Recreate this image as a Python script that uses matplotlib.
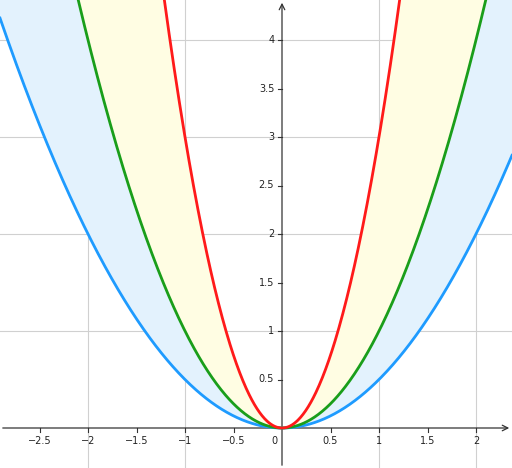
import numpy as np
import matplotlib
matplotlib.use("Agg")
import matplotlib.pyplot as plt

coefs = [0.5, 1.0, 3.0]
colors = ["#1e9bff", "#1a9e1a", "#ff1a1a"]
fills = ["#e3f2fd", "#fffde3"]
xticks = [-2.5, -2, -1.5, -1, -0.5, 0.5, 1, 1.5, 2]
yticks = [0.5, 1, 1.5, 2, 2.5, 3, 3.5, 4]

fig = plt.figure(figsize=(5.12, 4.68), dpi=100)
ax = fig.add_axes([0, 0, 1, 1])
xmin, xmax = -282/97, 230/97
ymin, ymax = -40/97, 428/97
ax.set_xlim(xmin, xmax); ax.set_ylim(ymin, ymax)
for s in ax.spines.values(): s.set_visible(False)
ax.set_xticks([]); ax.set_yticks([])

for g in [-2, -1, 1, 2]:
    ax.axvline(g, color="#d0d0d0", lw=0.8, zorder=0)
for g in [1, 2, 3, 4]:
    ax.axhline(g, color="#d0d0d0", lw=0.8, zorder=0)

x = np.linspace(xmin, xmax, 800)
ys = [c * x**2 for c in coefs]
ax.fill_between(x, ys[0], ys[1], color=fills[0], zorder=1)
ax.fill_between(x, ys[1], ys[2], color=fills[1], zorder=1)
for y, col in zip(ys, colors):
    ax.plot(x, y, color=col, lw=2, zorder=3)

ax.annotate("", xy=(xmax, 0), xytext=(xmin, 0),
            arrowprops=dict(arrowstyle="->", color="#333", lw=0.9), zorder=2)
ax.annotate("", xy=(0, ymax), xytext=(0, ymin),
            arrowprops=dict(arrowstyle="->", color="#333", lw=0.9), zorder=2)

for t in xticks:
    ax.plot([t, t], [0, -0.04], color="#333", lw=0.8)
    ax.text(t, -0.08, ("\u2212" if t < 0 else "") + f"{abs(t):g}", ha="center", va="top", fontsize=7, color="#222")
ax.text(-0.05, -0.08, "0", ha="right", va="top", fontsize=7, color="#222")
for t in yticks:
    ax.plot([0, -0.04], [t, t], color="#333", lw=0.8)
    ax.text(-0.08, t, f"{t:g}", ha="right", va="center", fontsize=7, color="#222")

fig.savefig("out.png", dpi=100)
